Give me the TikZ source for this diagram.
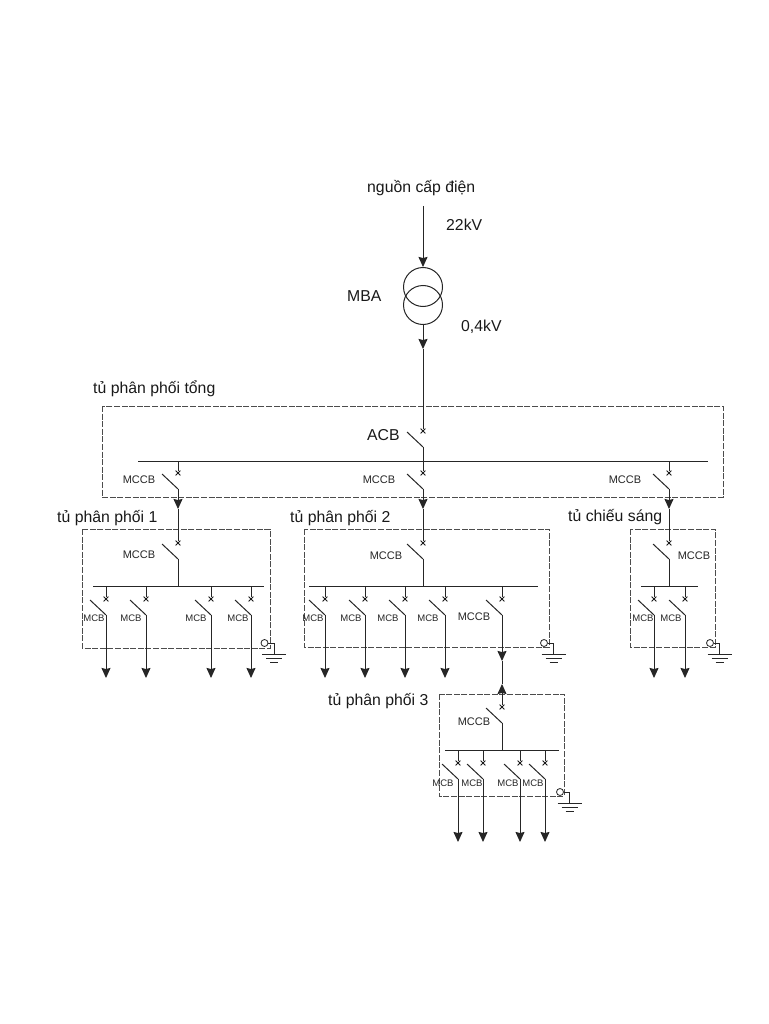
\documentclass[tikz,border=0pt]{standalone}
\usepackage{fontspec}
\setmainfont{Liberation Sans}
\usetikzlibrary{arrows.meta,shapes.misc}
\tikzset{
  wire/.style={line width=1pt,black!85},
  flow/.style={wire,-{Stealth[length=10pt,width=9pt,inset=1pt]}},
  panel/.style={line width=0.9pt,black!70,dash pattern=on 6pt off 1.6pt},
  cross/.style={cross out,draw,black!90,line width=0.8pt,minimum size=4pt,inner sep=0pt},
  bigtxt/.style={font=\fontsize{15.8}{17}\selectfont,anchor=base west,inner sep=0pt,black!90},
  mccbtxt/.style={font=\fontsize{11}{12}\selectfont,black!85,inner sep=0pt},
  mcbtxt/.style={font=\fontsize{9.5}{11}\selectfont,black!85,inner sep=0pt},
}
% switch: cross on top, blade below it
\newcommand{\brk}[3]{%
  \node[cross] (#1) at (#2,#3) {};
  \coordinate (#1a) at (#2-16,#3+1);
  \coordinate (#1b) at (#2,#3+16);
  \draw[wire] (#1a) -- (#1b);
}
% ground mark, circle at the panel corner
\newcommand{\gnd}[3]{%
  \node[circle,draw,black!85,line width=0.8pt,minimum size=7pt,inner sep=0pt] (#1) at (#2,#3) {};
  \coordinate (#1c) at (#2+9.5,#3);
  \coordinate (#1d) at (#2+9.5,#3+11.5);
  \draw[wire] (#1) -- (#1c) -- (#1d);
  \draw[wire] ([xshift=-12pt]#1d) -- ([xshift=12pt]#1d);
  \draw[wire] ([xshift=-8pt,yshift=-4pt]#1d) -- ([xshift=8pt,yshift=-4pt]#1d);
  \draw[wire] ([xshift=-4pt,yshift=-8pt]#1d) -- ([xshift=4pt,yshift=-8pt]#1d);
}
\begin{document}
\begin{tikzpicture}[x=1pt,y=-1pt]
  \useasboundingbox (0,0) rectangle (768,1024);

  % source and transformer
  \node[bigtxt] (src) at (367,193) {nguồn cấp điện};
  \node[bigtxt] (hv)  at (446,230) {22kV};
  \node[bigtxt] (mba) at (347,301) {MBA};
  \node[bigtxt] (lv)  at (461,331) {0,4kV};
  \coordinate (in) at (423,206);
  \node[circle,draw,wire,minimum size=39pt,inner sep=0pt] (t1) at (423,287) {};
  \node[circle,draw,wire,minimum size=39pt,inner sep=0pt] (t2) at (423,305) {};
  \draw[flow] (in) -- (t1.north);
  \coordinate (tip) at (423,349);
  \draw[flow] (t2.south) -- (tip);

  % panels
  \draw[panel] (102,406) rectangle (723,497);
  \draw[panel] (82,529)  rectangle (270,648);
  \draw[panel] (304,529) rectangle (549,647);
  \draw[panel] (630,529) rectangle (715,647);
  \draw[panel] (439,694) rectangle (564,796);
  \node[bigtxt] (p0) at (93,393)  {tủ phân phối tổng};
  \node[bigtxt] (p1) at (57,522)  {tủ phân phối 1};
  \node[bigtxt] (p2) at (290,522) {tủ phân phối 2};
  \node[bigtxt] (p4) at (568,521) {tủ chiếu sáng};
  \node[bigtxt] (p3) at (328,705) {tủ phân phối 3};

  % main board
  \coordinate (busL) at (138,461);
  \coordinate (busR) at (708,461);
  \draw[wire] (busL) -- (busR);
  \brk{acb}{423}{431}
  \draw[wire] (tip) -- (acb);
  \draw[wire] (acbb) -- (acbb |- busL);
  \node[bigtxt] (acbt) at (367,440) {ACB};

  % outgoing feeders to the panels
  \foreach \n/\x in {a/178,b/423,c/669}{
    \brk{m\n}{\x}{473}
    \draw[wire] (m\n |- busL) -- (m\n);
    \coordinate (tip\n) at (\x,509);
    \draw[flow] (m\n b) -- (tip\n);
    \brk{f\n}{\x}{543}
    \draw[wire] (tip\n) -- (f\n);
    \coordinate (bus\n) at (\x,586);
    \draw[wire] (f\n b) -- (bus\n);
  }
  \node[mccbtxt] (tma) at (139,480) {MCCB};
  \node[mccbtxt] (tmb) at (379,480) {MCCB};
  \node[mccbtxt] (tmc) at (625,480) {MCCB};
  \node[mccbtxt] (tna) at (139,555) {MCCB};
  \node[mccbtxt] (tnb) at (386,556) {MCCB};
  \node[mccbtxt] (tnc) at (694,556) {MCCB};

  % panel buses
  \coordinate (aL) at (93,586);  \coordinate (aR) at (264,586);
  \coordinate (bL) at (309,586); \coordinate (bR) at (538,586);
  \coordinate (cL) at (641,586); \coordinate (cR) at (698,586);
  \coordinate (dL) at (445,750); \coordinate (dR) at (559,750);
  \draw[wire] (aL) -- (aR);
  \draw[wire] (bL) -- (bR);
  \draw[wire] (cL) -- (cR);
  \draw[wire] (dL) -- (dR);

  % MCB branches: name, x, label x
  \foreach \n/\x/\lx in {a1/106/94,a2/146/131,a3/211/196,a4/251/238,
                         b1/325/313,b2/365/351,b3/405/388,b4/445/428,
                         c1/654/643,c2/685/671}{
    \brk{s\n}{\x}{599}
    \coordinate (sb\n) at (\x,586);
    \coordinate (e\n) at (\x,678);
    \draw[wire] (sb\n) -- (s\n);
    \draw[flow] (s\n b) -- (e\n);
    \node[mcbtxt] (l\n) at (\lx,618) {MCB};
  }
  \foreach \n/\x/\lx in {d1/458/443,d2/483/472,d3/520/508,d4/545/533}{
    \brk{s\n}{\x}{763}
    \coordinate (sb\n) at (\x,750);
    \coordinate (e\n) at (\x,842);
    \draw[wire] (sb\n) -- (s\n);
    \draw[flow] (s\n b) -- (e\n);
    \node[mcbtxt] (l\n) at (\lx,783) {MCB};
  }

  % link from panel 2 to panel 3
  \brk{link}{502}{599}
  \coordinate (sblink) at (502,586);
  \draw[wire] (sblink) -- (link);
  \node[mccbtxt] (linkt) at (474,617) {MCCB};
  \coordinate (down) at (502,661);
  \coordinate (up)   at (502,684);
  \draw[flow] (linkb) -- (down);
  \brk{fd}{502}{707}
  \draw[flow] (fd) -- (up);
  \draw[wire] (down) -- (up);
  \coordinate (busd) at (502,750);
  \draw[wire] (fdb) -- (busd);
  \node[mccbtxt] (tnd) at (474,722) {MCCB};

  % earth
  \gnd{ga}{264.5}{643}
  \gnd{gb}{544}{643}
  \gnd{gc}{710}{643}
  \gnd{gd}{560}{792}
\end{tikzpicture}
\end{document}
